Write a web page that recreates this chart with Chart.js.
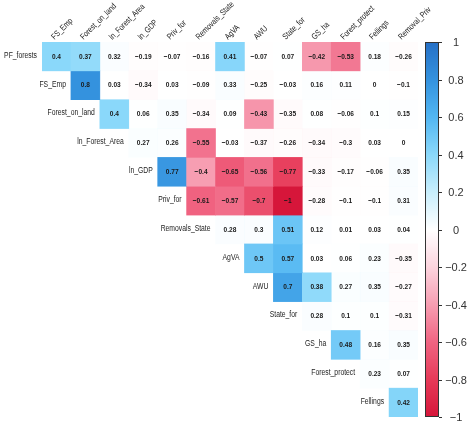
<!DOCTYPE html>
<html>
<head>
<meta charset="utf-8">
<script src="https://cdn.jsdelivr.net/npm/chart.js@4.4.1/dist/chart.umd.min.js"></script>
<style>
  html, body { margin: 0; padding: 0; background: #fff; }
  #wrap { width: 474px; height: 424px; }
</style>
</head>
<body>
<div id="wrap"><canvas id="chart"></canvas></div>
<script>
const rowLabels = ["PF_forests", "FS_Emp", "Forest_on_land", "ln_Forest_Area", "ln_GDP", "Priv_for",
  "Removals_State", "AgVA", "AWU", "State_for", "GS_ha", "Forest_protect", "Fellings"];
const colLabels = ["FS_Emp", "Forest_on_land", "ln_Forest_Area", "ln_GDP", "Priv_for", "Removals_State",
  "AgVA", "AWU", "State_for", "GS_ha", "Forest_protect", "Fellings", "Removal_Priv"];

// upper triangle, row i starts at column i
const corr = [
  [0.4, 0.37, 0.32, -0.19, -0.07, -0.16, 0.41, -0.07, 0.07, -0.42, -0.53, 0.18, -0.26],
  [0.8, 0.03, -0.34, 0.03, -0.09, 0.33, -0.25, -0.03, 0.16, 0.11, 0, -0.1],
  [0.4, 0.06, 0.35, -0.34, 0.09, -0.43, -0.35, 0.08, -0.06, 0.1, 0.15],
  [0.27, 0.26, -0.55, -0.03, -0.37, -0.26, -0.34, -0.3, 0.03, 0],
  [0.77, -0.4, -0.65, -0.56, -0.77, -0.33, -0.17, -0.06, 0.35],
  [-0.61, -0.57, -0.7, -1, -0.28, -0.1, -0.1, 0.31],
  [0.28, 0.3, 0.51, 0.12, 0.01, 0.03, 0.04],
  [0.5, 0.57, 0.03, 0.06, 0.23, -0.35],
  [0.7, 0.38, 0.27, 0.35, -0.27],
  [0.28, 0.1, 0.1, -0.31],
  [0.48, 0.16, 0.35],
  [0.23, 0.07],
  [0.42]
];
// significant cells (row index -> column indices) get the full colour
const signif = [
  [0, 1, 6, 9, 10],
  [1],
  [2, 7],
  [5],
  [4, 5, 6, 7, 8],
  [5, 6, 7, 8],
  [8],
  [7, 8],
  [8, 9],
  [],
  [10],
  [],
  [12]
];
const cbTicks = [1, 0.8, 0.6, 0.4, 0.2, 0, -0.2, -0.4, -0.6, -0.8, -1];

const stops = [
  [-1.0, [214, 22, 58]],
  [-0.8, [230, 58, 88]],
  [-0.6, [240, 100, 130]],
  [-0.4, [247, 158, 178]],
  [-0.2, [252, 212, 222]],
  [0.0, [255, 255, 255]],
  [0.2, [200, 238, 252]],
  [0.4, [138, 216, 250]],
  [0.6, [82, 182, 242]],
  [0.8, [52, 146, 222]],
  [1.0, [38, 112, 198]]
];
function colorFor(v, a) {
  let i = 0;
  while (i < stops.length - 2 && v > stops[i + 1][0]) i++;
  const [v0, c0] = stops[i], [v1, c1] = stops[i + 1];
  const t = Math.max(0, Math.min(1, (v - v0) / (v1 - v0)));
  const c = c0.map((x, k) => Math.round(x + (c1[k] - x) * t));
  return `rgba(${c[0]},${c[1]},${c[2]},${a})`;
}
function valueAt(r, c) { return corr[r][c - r]; }
function fmt(v) { return String(v).replace('-', '\u2212'); }

// narrow text, like the squeezed Helvetica of the original
function squeezed(ctx, text, x, y, sx, rot) {
  ctx.save();
  ctx.translate(x, y);
  if (rot) ctx.rotate(rot);
  ctx.scale(sx, 1);
  ctx.fillText(text, 0, 0);
  ctx.restore();
}

const datasets = rowLabels.map((name, r) => ({
  label: name,
  data: colLabels.map((_, c) => c >= r ? [r - 0.5, r + 0.5] : null),
  backgroundColor: ctx => {
    const c = ctx.dataIndex;
    if (c < r) return 'transparent';
    const v = valueAt(r, c);
    return signif[r].includes(c) ? colorFor(v, 1) : colorFor(v, 0.06);
  },
  borderWidth: 0,
  borderSkipped: false,
  grouped: false,
  barPercentage: 1,
  categoryPercentage: 1
}));

const textPlugin = {
  id: 'corrText',
  afterDatasetsDraw(chart) {
    const ctx = chart.ctx;
    const x = chart.scales.x, y = chart.scales.y;
    ctx.save();
    ctx.textBaseline = 'middle';
    // cell values
    ctx.font = 'bold 8px "Liberation Sans", Arial, sans-serif';
    ctx.fillStyle = '#1a1a1a';
    ctx.textAlign = 'center';
    rowLabels.forEach((_, r) => {
      for (let c = r; c < colLabels.length; c++) {
        squeezed(ctx, fmt(valueAt(r, c)), x.getPixelForValue(c), y.getPixelForValue(r), 0.82);
      }
    });
    // row labels, left of the diagonal cell
    ctx.font = '8.5px "Liberation Sans", Arial, sans-serif';
    ctx.fillStyle = '#222';
    ctx.textAlign = 'right';
    const half = (x.getPixelForValue(1) - x.getPixelForValue(0)) / 2;
    rowLabels.forEach((name, r) => {
      squeezed(ctx, name, x.getPixelForValue(r) - half - 5, y.getPixelForValue(r) - 1, 0.8);
    });
    // rotated column labels
    ctx.textAlign = 'left';
    ctx.textBaseline = 'alphabetic';
    colLabels.forEach((name, c) => {
      squeezed(ctx, name, x.getPixelForValue(c) - 2, chart.chartArea.top - 2, 0.8, -Math.PI / 4);
    });
    ctx.restore();
  }
};

const colorbarPlugin = {
  id: 'colorbar',
  afterDraw(chart) {
    const ctx = chart.ctx;
    const cb = chart.scales.cb;
    const left = chart.chartArea.right + 7, w = 14;
    const top = cb.getPixelForValue(1), bottom = cb.getPixelForValue(-1);
    ctx.save();
    for (let py = Math.floor(top); py < bottom; py++) {
      ctx.fillStyle = colorFor(cb.getValueForPixel(py + 0.5), 1);
      ctx.fillRect(left, py, w, 1);
    }
    ctx.strokeStyle = '#333';
    ctx.lineWidth = 1;
    ctx.strokeRect(left + 0.5, top + 0.5, w - 1, bottom - top - 1);
    ctx.font = '11px "Liberation Sans", Arial, sans-serif';
    ctx.fillStyle = '#333';
    ctx.textAlign = 'center';
    ctx.textBaseline = 'middle';
    cbTicks.forEach(v => {
      const py = Math.round(cb.getPixelForValue(v)) + 0.5;
      ctx.beginPath();
      ctx.moveTo(left + w, py);
      ctx.lineTo(left + w + 3, py);
      ctx.stroke();
      ctx.fillText(fmt(v), left + w + 17, py);
    });
    ctx.restore();
  }
};

new Chart(document.getElementById('chart'), {
  type: 'bar',
  data: { labels: colLabels, datasets },
  options: {
    responsive: true,
    maintainAspectRatio: false,
    animation: false,
    layout: { padding: { left: 42, top: 42, right: 56, bottom: 7 } },
    plugins: { legend: { display: false }, tooltip: { enabled: false } },
    scales: {
      x: { display: false, offset: true, grid: { display: false } },
      y: { display: false, min: -0.5, max: 12.5, reverse: true },
      cb: { axis: 'y', display: false, min: -1, max: 1 }
    }
  },
  plugins: [textPlugin, colorbarPlugin]
});
</script>
</body>
</html>
